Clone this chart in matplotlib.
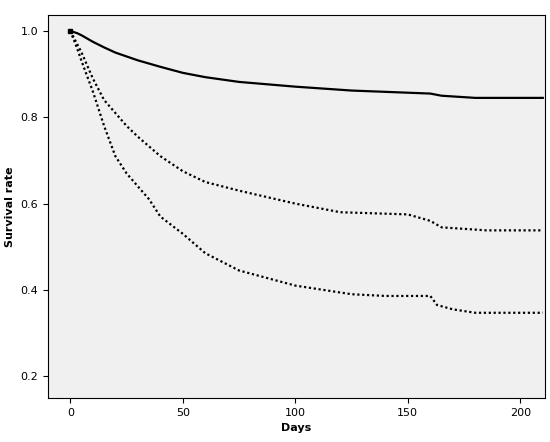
import matplotlib.pyplot as plt

days_a = [0, 3, 5, 10, 15, 20, 30, 40, 50, 60, 75, 100, 125, 150, 160, 165, 180, 210]
surv_a = [1.0, 0.995, 0.99, 0.975, 0.962, 0.95, 0.932, 0.917, 0.903, 0.893, 0.882, 0.871, 0.862, 0.857, 0.855, 0.85, 0.845, 0.845]

days_b = [0, 3, 5, 10, 15, 20, 25, 30, 40, 50, 60, 75, 100, 120, 150, 160, 165, 185, 210]
surv_b = [1.0, 0.97, 0.95, 0.89, 0.84, 0.81, 0.78, 0.755, 0.71, 0.675, 0.65, 0.63, 0.60, 0.58, 0.575, 0.56, 0.545, 0.538, 0.538]

days_c = [0, 3, 5, 10, 15, 20, 25, 30, 35, 40, 50, 60, 75, 100, 125, 140, 160, 163, 170, 180, 210]
surv_c = [1.0, 0.96, 0.93, 0.86, 0.78, 0.71, 0.67, 0.64, 0.61, 0.57, 0.53, 0.485, 0.445, 0.41, 0.39, 0.386, 0.386, 0.365, 0.355, 0.347, 0.347]

fig = plt.figure(figsize=(5.5, 4.42), dpi=100)
ax = fig.add_axes([0.087, 0.1, 0.904, 0.866])
ax.set_facecolor('#f0f0f0')

ax.plot(days_a, surv_a, color='black', lw=1.6)
ax.plot(days_b, surv_b, color='black', lw=1.6, linestyle=(0, (1, 1.2)))
ax.plot(days_c, surv_c, color='black', lw=1.6, linestyle=(0, (1, 1.2)))
ax.plot(0, 1.0, 's', color='black', ms=3)

ax.set_xlim(-10, 211)
ax.set_ylim(0.15, 1.037)
ax.set_xticks([0, 50, 100, 150, 200])
ax.set_yticks([0.2, 0.4, 0.6, 0.8, 1.0])
ax.set_xlabel('Days', fontsize=8, fontweight='bold')
ax.set_ylabel('Survival rate', fontsize=8, fontweight='bold')
ax.tick_params(labelsize=8)

fig.savefig('out.png', dpi=100)
